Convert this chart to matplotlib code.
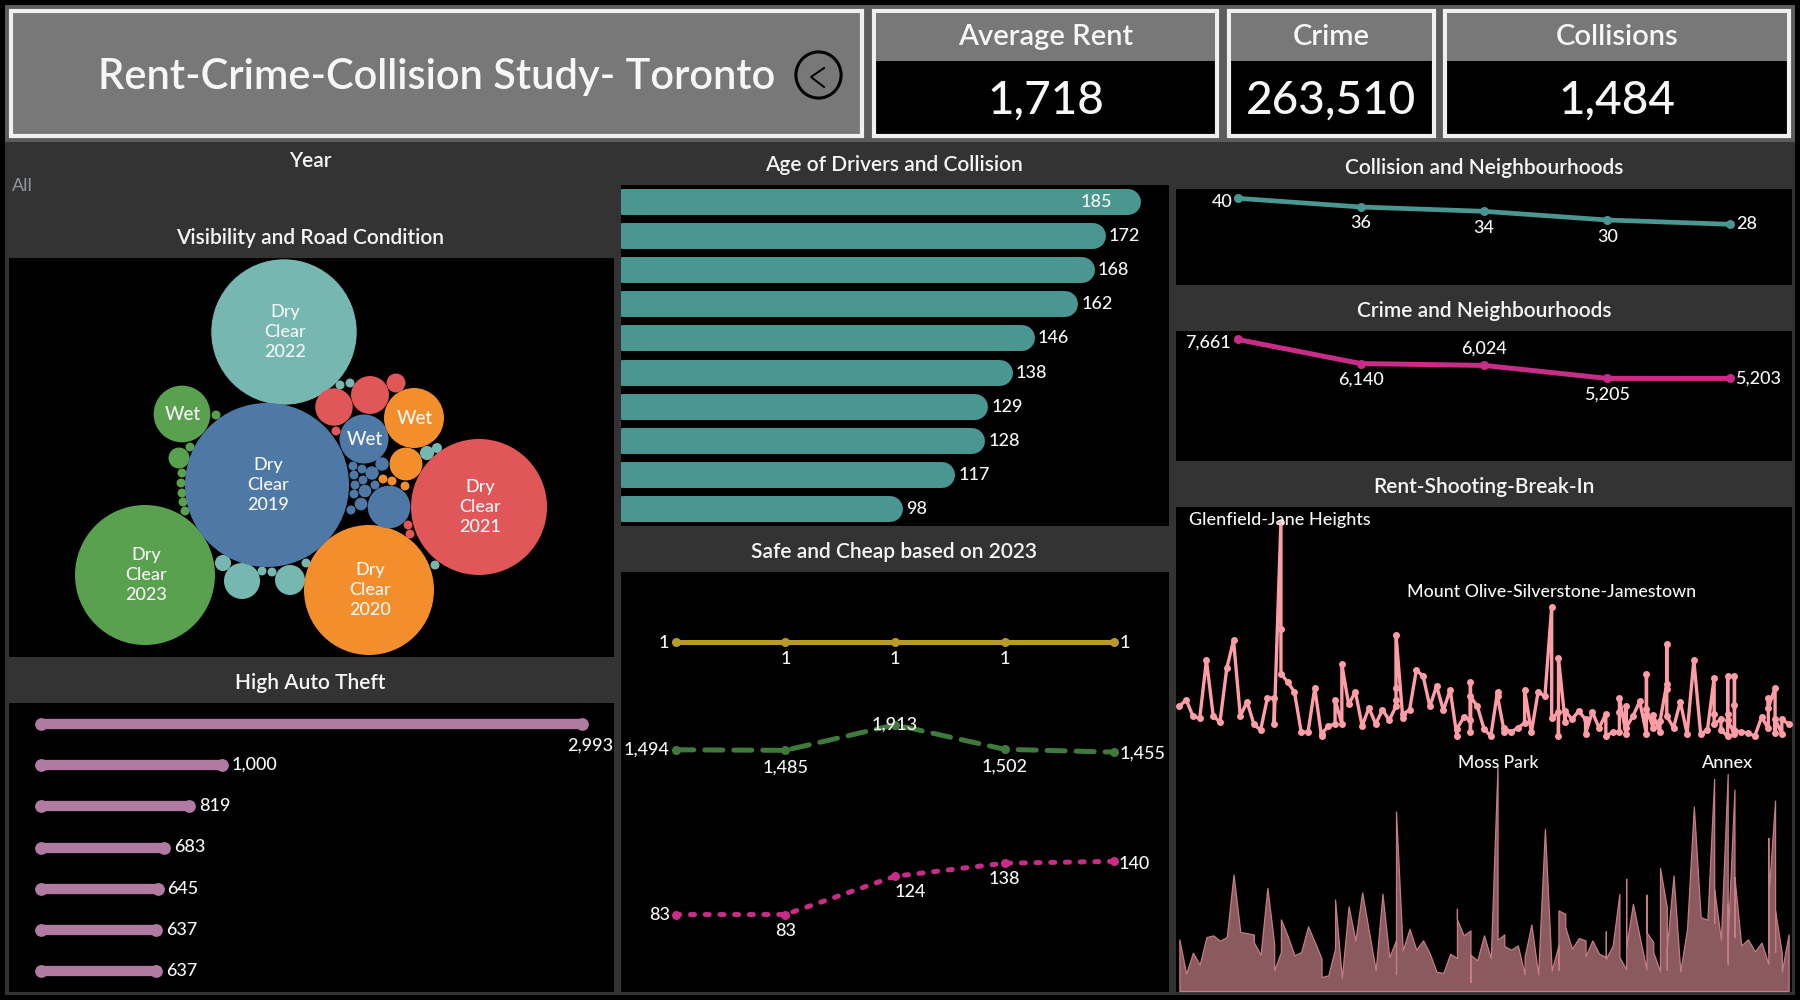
import matplotlib
matplotlib.use("Agg")
import matplotlib.pyplot as plt
from matplotlib.patches import Rectangle, Circle
from matplotlib.lines import Line2D

plt.rcParams['font.family'] = ['Lato', 'DejaVu Sans']
plt.rcParams['font.weight'] = 'medium'

W, H = 1800, 1000

# ---------- data ----------
kpi_names = ["Average Rent", "Crime", "Collisions"]
kpi_values = ["1,718", "263,510", "1,484"]

age_values = [185, 172, 168, 162, 146, 138, 129, 128, 117, 98]
theft_values = [2993, 1000, 819, 683, 645, 637, 637]
collision_values = [40, 36, 34, 30, 28]
crime_values = [7661, 6140, 6024, 5205, 5203]
safe_gold = [1, 1, 1, 1, 1]
safe_green = [1494, 1485, 1913, 1502, 1455]
safe_pink = [83, 83, 124, 138, 140]

# Packed-bubble layout, per year
b2019_x = [267, 364, 389, 382, 353, 362, 372, 354, 363, 355, 375, 365, 354, 361, 351]
b2019_y = [485, 439, 507, 464, 466, 469, 473, 475, 480, 485, 485, 491, 494, 504, 510]
b2019_n = [1345, 120, 91, 9, 4, 4, 9, 4, 4, 4, 4, 8, 4, 8, 4]
b2020_x = [369, 414, 406, 383, 392, 405]
b2020_y = [590, 418, 464, 479, 481, 486]
b2020_n = [845, 180, 54, 4, 4, 4]
b2021_x = [479, 334, 370, 396, 336, 408, 410]
b2021_y = [507, 407, 395, 383, 431, 525, 534]
b2021_n = [925, 70, 72, 18, 4, 4, 4]
b2022_x = [284, 242, 290, 223, 340, 350, 427, 437, 435, 306, 262, 272]
b2022_y = [332, 581, 580, 563, 385, 383, 453, 448, 565, 563, 571, 572]
b2022_n = [1057, 65, 45, 13, 4, 4, 10, 5, 4, 4, 4, 4]
b2023_x = [145, 182, 179, 216, 190, 182, 181, 182, 183, 185]
b2023_y = [575, 414, 458, 415, 447, 473, 483, 493, 502, 511]
b2023_n = [980, 161, 22, 4, 4, 4, 4, 4, 4, 4]

# Rent-Shooting-Break-In: neighbourhood rank and value, several readings per rank
rent_x = [0,1,2,3,4,5,6,7,8,9,10,11,12,13,14,14,15,15,15,16,17,18,19,20,21,21,22,23,23,24,24,25,26,27,28,29,30,31,
          32,32,32,32,33,33,34,35,36,37,38,39,40,41,41,42,43,43,43,43,44,45,46,47,47,48,48,49,50,51,51,52,53,54,55,55,
          56,56,56,57,57,58,59,60,60,61,62,63,63,64,65,65,65,66,66,66,67,68,69,69,69,69,70,70,71,71,72,72,72,72,73,74,
          75,76,77,78,79,79,79,80,80,81,81,81,81,82,82,82,82,83,84,85,86,87,87,87,88,88,88,89,89,90]
rent_y = [142,162,113,106,280,113,95,256,340,113,156,89,71,167,167,89,694,375,240,215,185,65,65,197,53,60,83,89,162,89,268,148,186,83,138,89,132,101,
          142,160,197,357,107,119,131,250,233,142,203,130,192,53,75,109,102,215,65,172,143,75,53,186,172,65,78,65,78,92,191,65,186,172,440,106,
          125,53,286,94,127,104,128,103,60,126,77,119,53,65,65,126,167,60,143,78,113,157,60,115,240,135,78,115,65,97,210,328,195,113,78,156,
          60,280,60,71,227,119,89,104,71,53,120,232,100,60,232,145,70,65,63,53,109,77,168,138,197,63,104,60,104,89]

area_x = [0,1,2,3,4,5,6,7,8,9,10,11,11,12,13,14,14,15,15,16,17,18,19,20,21,21,22,23,23,24,25,26,27,28,29,30,31,
          32,32,32,33,34,35,36,37,38,39,40,41,41,41,42,43,43,43,44,45,46,47,47,48,48,49,50,51,51,52,53,54,55,
          56,56,56,57,57,58,59,60,60,61,62,63,63,63,64,65,65,66,66,66,67,68,69,69,69,70,70,71,71,72,72,72,73,74,75,76,77,78,
          79,79,79,80,81,81,81,81,82,82,82,83,84,85,86,87,87,87,87,88,88,88,88,89,89,90]
area_y = [155,52,115,79,162,167,151,162,350,177,174,169,146,109,310,142,62,117,215,165,107,117,194,147,97,42,47,127,275,39,254,152,296,179,62,292,102,
          152,52,539,122,187,124,152,112,57,55,112,99,247,215,167,182,27,109,92,167,99,677,154,170,135,124,137,50,102,200,50,487,62,
          137,64,242,232,192,127,159,152,104,152,112,102,179,97,135,292,102,65,337,132,262,162,65,289,177,147,117,59,370,252,64,127,347,59,187,554,222,214,
          637,204,307,154,652,82,262,152,605,162,342,137,155,119,145,82,460,117,277,572,487,117,242,112,59,170]

# ---------- palette ----------
PANEL = '#333333'
HEAD = '#787878'
RIM = '#5c5c5c'
EDGE = '#f0f0f0'
TXT = '#f7f7f7'
TEAL = '#4a9690'
PINK = '#c72c87'
GOLD = '#b89a2b'
GREEN = '#3f7a3c'
MAUVE = '#b07aa1'
ROSE = '#ff9da7'
T_LABEL = 13
T_TITLE = 15

fig = plt.figure(figsize=(18, 10), dpi=100, facecolor='black')


def rect(x0, y0, x1, y1, fc, ec='none', lw=0, z=0):
    fig.add_artist(Rectangle((x0 / W, 1 - y1 / H), (x1 - x0) / W, (y1 - y0) / H, transform=fig.transFigure,
                             facecolor=fc, edgecolor=ec, linewidth=lw, zorder=z))


def text(x, y, s, size=T_TITLE, ha='center', color=TXT, weight='semibold', **kw):
    fig.text(x / W, 1 - y / H, s, fontsize=size, ha=ha, va='center', color=color, zorder=5, fontweight=weight, **kw)


def panel(x0, y0, x1, y1, xlim=None, ylim=None):
    ax = fig.add_axes([x0 / W, 1 - y1 / H, (x1 - x0) / W, (y1 - y0) / H], facecolor='black')
    for s in ax.spines.values():
        s.set_visible(False)
    ax.set_xticks([])
    ax.set_yticks([])
    if xlim is not None:
        ax.set_xlim(*xlim)
    if ylim is not None:
        ax.set_ylim(*ylim)
    return ax


def label(ax, x, y, s, dx=0, dy=0, ha='center'):
    ax.annotate(s, (x, y), xytext=(dx, -dy - 1), textcoords='offset pixels', ha=ha, va='center',
                color=TXT, fontsize=T_LABEL, annotation_clip=False, zorder=6)


# ---------- page frame ----------
rect(5, 5, 1795, 995, PANEL)
rect(5, 5, 1795, 142, RIM)

rect(11, 11, 862, 136, HEAD, ec=EDGE, lw=3, z=1)
text(98, 77, "Rent-Crime-Collision Study- Toronto", size=30, ha='left')
fig.add_artist(Line2D([824 / W, 811 / W, 824 / W], [1 - 68 / H, 1 - 77 / H, 1 - 87 / H], color='black', lw=1.4, zorder=6))
badge = panel(794, 50, 843, 100, xlim=(-1.04, 1.04), ylim=(-1.04, 1.04))
badge.set_facecolor('none')
badge.set_zorder(4)
badge.add_patch(Circle((0, 0), 0.96, facecolor='none', edgecolor='black', lw=2.2))

cards = [(874, 1217), (1229, 1434), (1445, 1789)]
for (x0, x1), name, val in zip(cards, kpi_names, kpi_values):
    rect(x0, 11, x1, 136, 'black', ec=EDGE, lw=3, z=1)
    rect(x0 + 2, 13, x1 - 2, 61, HEAD, z=2)
    text((x0 + x1) / 2, 37, name, size=21)
    text((x0 + x1) / 2, 101, val, size=33, weight='medium')

# ---------- section titles ----------
text(310, 161, "Year")
text(12, 186, "All", ha='left', color='#8f98a0', size=13, weight='normal')
text(310, 238, "Visibility and Road Condition")
text(310, 683, "High Auto Theft")
text(894, 165, "Age of Drivers and Collision")
text(894, 552, "Safe and Cheap based on 2023")
text(1484, 168, "Collision and Neighbourhoods")
text(1484, 311, "Crime and Neighbourhoods")
text(1484, 487, "Rent-Shooting-Break-In")

# ---------- bubbles ----------
ax = panel(9, 258, 614, 657, xlim=(9, 614), ylim=(657, 258))
groups = [(b2022_x, b2022_y, b2022_n, '#76b7b2'), (b2021_x, b2021_y, b2021_n, '#e15759'),
          (b2020_x, b2020_y, b2020_n, '#f28e2b'), (b2023_x, b2023_y, b2023_n, '#59a14f'),
          (b2019_x, b2019_y, b2019_n, '#4e79a7')]
for bx, by, bn, c in groups:
    ax.scatter(bx, by, s=[10.368 * n for n in bn], color=c, linewidths=0)
for bx, by, yr in [(b2019_x, b2019_y, "2019"), (b2020_x, b2020_y, "2020"), (b2021_x, b2021_y, "2021"),
                   (b2022_x, b2022_y, "2022"), (b2023_x, b2023_y, "2023")]:
    ax.annotate(f"Dry\nClear\n{yr}", (bx[0], by[0]), xytext=(1.5, 0), textcoords='offset pixels',
                ha='center', va='center', color=TXT, fontsize=T_LABEL, linespacing=1.33)
for bx, by in [(b2019_x, b2019_y), (b2020_x, b2020_y), (b2023_x, b2023_y)]:
    ax.annotate("Wet", (bx[1], by[1]), xytext=(1, 0), textcoords='offset pixels',
                ha='center', va='center', color=TXT, fontsize=T_LABEL + 0.5)

# ---------- auto theft ----------
ax = panel(9, 703, 614, 992, xlim=(-177, 3170), ylim=(6.5, -0.5))
rows = list(range(len(theft_values)))
ax.hlines(rows, 0, theft_values, color=MAUVE, lw=7.4)
ax.plot([0] * len(rows), rows, 'o', color=MAUVE, ms=9.2, mew=0)
ax.plot(theft_values, rows, 'o', color=MAUVE, ms=9.2, mew=0)
for r, v in zip(rows, theft_values):
    if r == 0:
        label(ax, v, r, f"{v:,}", dx=8, dy=21)
    else:
        label(ax, v, r, f"{v:,}", dx=10, dy=-1, ha='left')

# ---------- age ----------
ax = panel(621, 185, 1169, 526, xlim=(-0.7, 200), ylim=(9.5, -0.5))
rows = list(range(len(age_values)))
ax.hlines(rows, 0, age_values, color=TEAL, lw=18.7, capstyle='round')
for r, v in zip(rows, age_values):
    if r == 0:
        label(ax, v, r, str(v), dx=-16, dy=-1, ha='right')
    else:
        label(ax, v, r, str(v), dx=16, dy=-1, ha='left')

# ---------- safe and cheap ----------
cats = list(range(5))
ax = panel(621, 572, 1169, 712, xlim=(-0.5, 4.5), ylim=(0, 2))
ax.plot(cats, safe_gold, '-o', color=GOLD, lw=3.6, ms=6.5, mew=0)
for i, v in zip(cats, safe_gold):
    if i == 0:
        label(ax, i, v, str(v), dx=-7, ha='right')
    elif i == 4:
        label(ax, i, v, str(v), dx=5, ha='left')
    else:
        label(ax, i, v, str(v), dy=16)

ax = panel(621, 712, 1169, 852, xlim=(-0.5, 4.5), ylim=(-218, 2127))
ax.plot(cats, safe_green, color=GREEN, lw=3.6, linestyle=(0, (3.6, 2.2)), dash_capstyle='round')
ax.plot(cats, safe_green, 'o', color=GREEN, ms=6.5, mew=0)
for i, v, (dx, dy, ha) in zip(cats, safe_green, [(-6, -1, 'right'), (0, 16, 'center'), (0, -1, 'center'),
                                                 (0, 16, 'center'), (5, 0, 'left')]):
    label(ax, i, v, f"{v:,}", dx=dx, dy=dy, ha=ha)

ax = panel(621, 852, 1169, 992, xlim=(-0.5, 4.5), ylim=(0, 150))
ax.plot(cats, safe_pink, color=PINK, lw=3.6, linestyle=(0, (0.8, 2.14)), dash_capstyle='round')
ax.plot(cats, safe_pink, 'o', color=PINK, ms=6.5, mew=0)
for i, v, (dx, dy, ha) in zip(cats, safe_pink, [(-6, -1, 'right'), (0, 15, 'center'), (15, 15, 'center'),
                                                (0, 15, 'center'), (4, 2, 'left')]):
    label(ax, i, v, str(v), dx=dx, dy=dy, ha=ha)

# ---------- collision / crime ----------
ax = panel(1176, 189, 1792, 285, xlim=(-0.5, 4.5), ylim=(0, 44.3))
ax.plot(cats, collision_values, '-o', color=TEAL, lw=3.4, ms=6.5, mew=0)
for i, v, (dx, dy, ha) in zip(cats, collision_values, [(-5, 3, 'right'), (0, 15, 'center'), (0, 16, 'center'),
                                                       (0, 16, 'center'), (6, -1, 'left')]):
    label(ax, i, v, str(v), dx=dx, dy=dy, ha=ha)

ax = panel(1176, 331, 1792, 461, xlim=(-0.5, 4.5), ylim=(0, 8192))
ax.plot(cats, crime_values, '-o', color=PINK, lw=3.6, ms=6.5, mew=0)
for i, v, (dx, dy, ha) in zip(cats, crime_values, [(-6.5, 2, 'right'), (0, 15, 'center'), (0, -18, 'center'),
                                                   (0, 15, 'center'), (5, -1, 'left')]):
    label(ax, i, v, f"{v:,}", dx=dx, dy=dy, ha=ha)

# ---------- rent / shooting / break-in ----------
ax = panel(1176, 507, 1792, 750, xlim=(-0.5, 90.5), ylim=(11.5, 739))
ax.plot(rent_x, rent_y, '-o', color=ROSE, lw=2.4, ms=5, mew=0)
ax = panel(1176, 750, 1792, 992, xlim=(-0.5, 90.5), ylim=(-3, 724))
ax.fill_between(area_x, area_y, 0, facecolor='#8b5a5e', edgecolor='#c47c86', lw=0.9)
text(1189, 520, "Glenfield-Jane Heights", size=T_LABEL, ha='left', weight='medium')
text(1407, 592, "Mount Olive-Silverstone-Jamestown", size=12.8, ha='left', weight='medium')
text(1458, 763, "Moss Park", size=12.6, ha='left', weight='medium')
text(1702, 763, "Annex", size=T_LABEL, ha='left', weight='medium')

fig.savefig('out.png', dpi=100, facecolor='black')
